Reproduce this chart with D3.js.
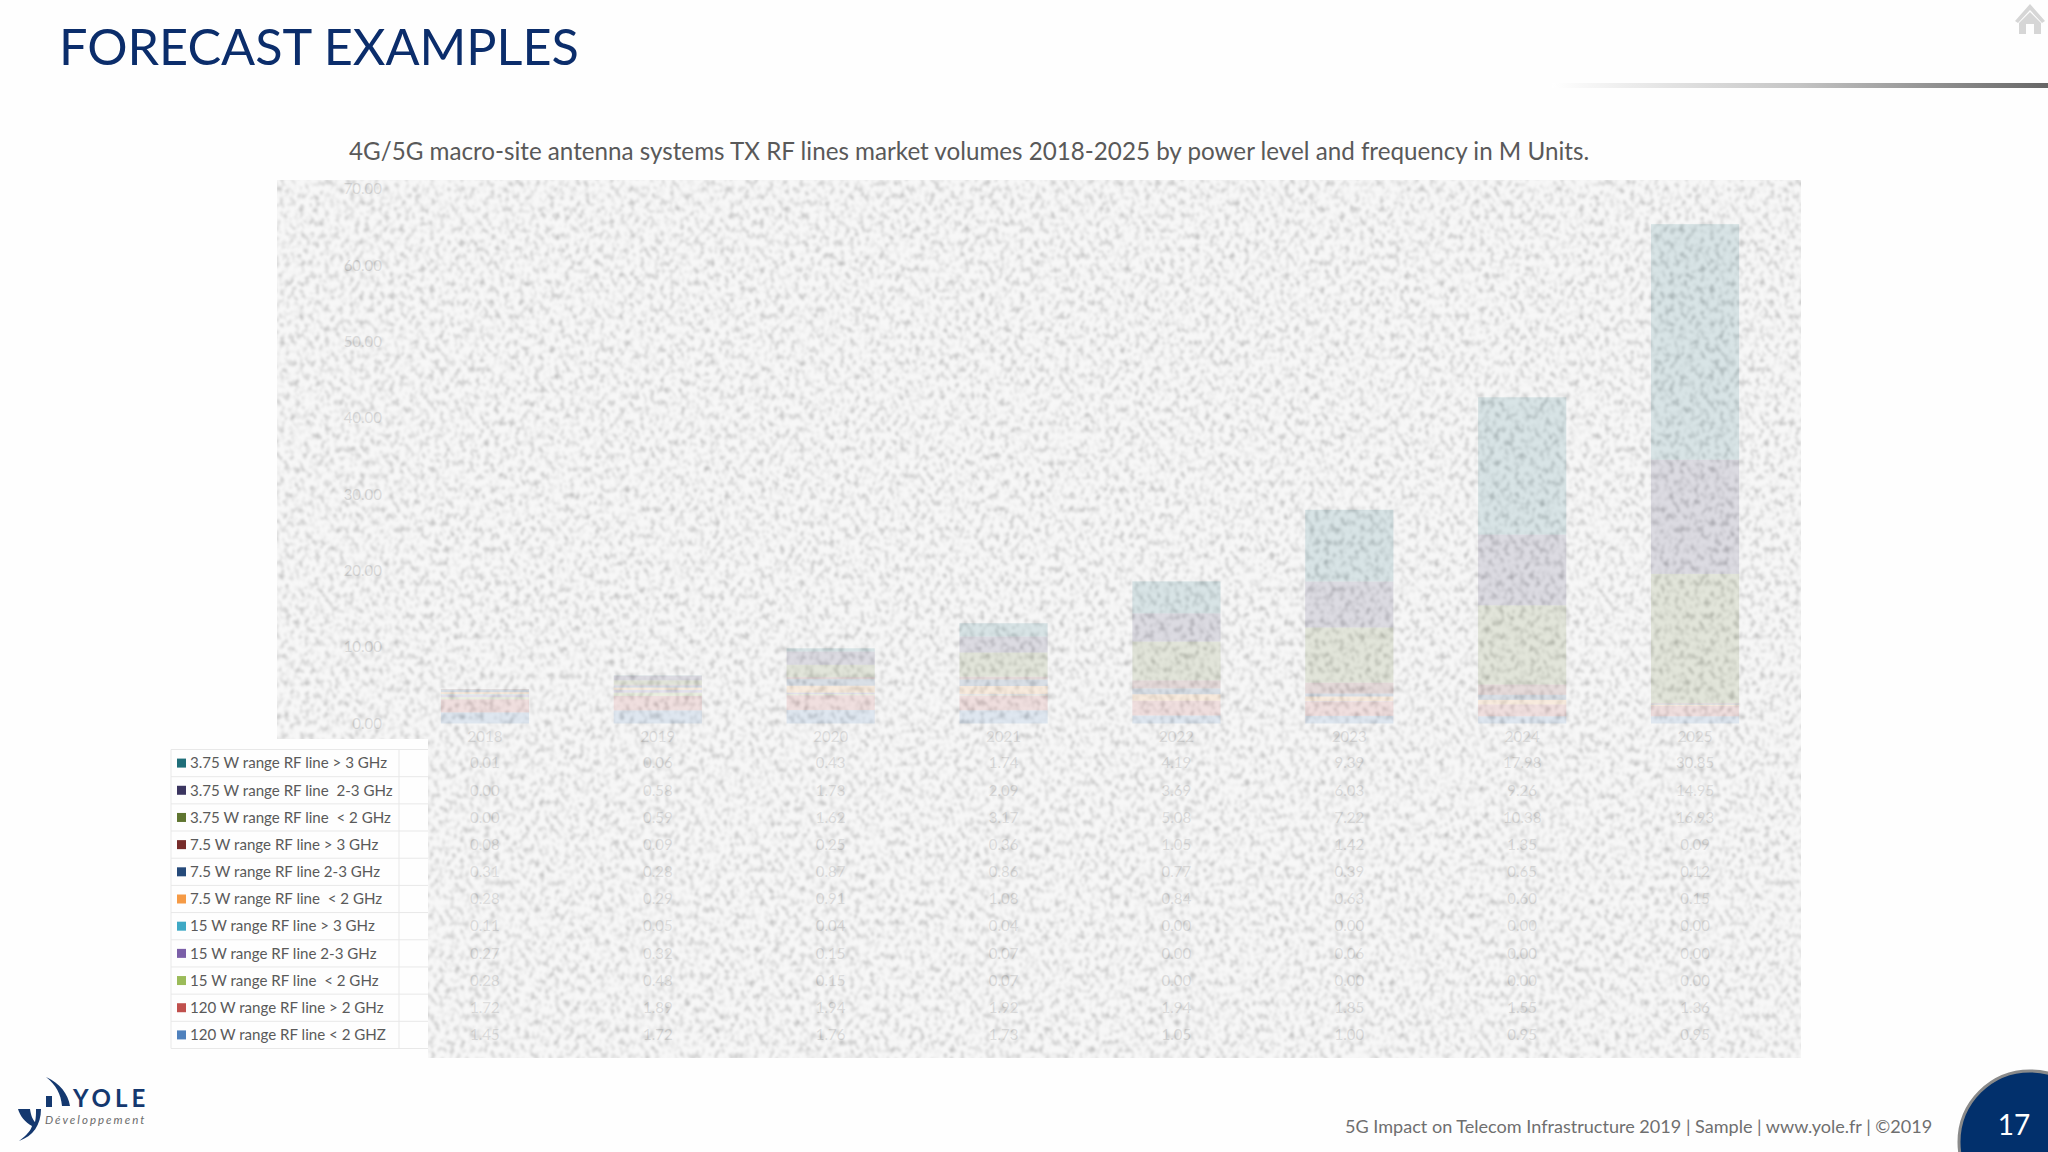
<!DOCTYPE html>
<html>
<head>
<meta charset="utf-8">
<title>Forecast examples</title>
<script src="https://cdnjs.cloudflare.com/ajax/libs/d3/7.8.5/d3.min.js"></script>
<style>
  html, body { margin: 0; padding: 0; background: #fff; }
  svg { display: block; font-family: Lato, sans-serif; }
</style>
</head>
<body>
<script>
// values, stack order is bottom (last row) to top (first row)
var years = ["2018", "2019", "2020", "2021", "2022", "2023", "2024", "2025"];
var seriesNames = [
  "3.75 W range RF line > 3 GHz",
  "3.75 W range RF line  2-3 GHz",
  "3.75 W range RF line  < 2 GHz",
  "7.5 W range RF line > 3 GHz",
  "7.5 W range RF line 2-3 GHz",
  "7.5 W range RF line  < 2 GHz",
  "15 W range RF line > 3 GHz",
  "15 W range RF line 2-3 GHz",
  "15 W range RF line  < 2 GHz",
  "120 W range RF line > 2 GHz",
  "120 W range RF line < 2 GHZ"
];
var seriesColors = ["#1f6e79", "#3b3560", "#5f7530", "#772c2a", "#254a7a", "#f59a45", "#3fa9c5", "#7b5fa8", "#9bbb59", "#c0504d", "#4f81bd"];

var w375_gt3 = [0.01, 0.06, 0.43, 1.74, 4.19, 9.39, 17.98, 30.85];
var w375_2to3 = [0.00, 0.58, 1.73, 2.09, 3.69, 6.03, 9.26, 14.95];
var w375_lt2 = [0.00, 0.59, 1.62, 3.17, 5.08, 7.22, 10.38, 16.93];
var w75_gt3 = [0.08, 0.09, 0.25, 0.36, 1.05, 1.42, 1.35, 0.09];
var w75_2to3 = [0.31, 0.28, 0.87, 0.86, 0.77, 0.39, 0.65, 0.12];
var w75_lt2 = [0.28, 0.29, 0.91, 1.08, 0.84, 0.63, 0.60, 0.15];
var w15_gt3 = [0.11, 0.05, 0.04, 0.04, 0.00, 0.00, 0.00, 0.00];
var w15_2to3 = [0.27, 0.32, 0.15, 0.07, 0.00, 0.06, 0.00, 0.00];
var w15_lt2 = [0.28, 0.43, 0.15, 0.07, 0.00, 0.00, 0.00, 0.00];
var w120_gt2 = [1.72, 1.89, 1.94, 1.92, 1.94, 1.85, 1.55, 1.36];
var w120_lt2 = [1.45, 1.72, 1.76, 1.73, 1.05, 1.00, 0.95, 0.95];
var seriesValues = [w375_gt3, w375_2to3, w375_lt2, w75_gt3, w75_2to3, w75_lt2, w15_gt3, w15_2to3, w15_lt2, w120_gt2, w120_lt2];
var yTicks = [0, 10, 20, 30, 40, 50, 60, 70];

var title = "FORECAST EXAMPLES";
var subtitle = "4G/5G macro-site antenna systems TX RF lines market volumes 2018-2025 by power level and frequency in M Units.";
var footer = "5G Impact on Telecom Infrastructure 2019 | Sample | www.yole.fr | ©2019";

var svg = d3.select("body").append("svg").attr("width", 2048).attr("height", 1152);
var defs = svg.append("defs");

// line under the header
var grad = defs.append("linearGradient").attr("id", "rule");
grad.append("stop").attr("offset", "0").attr("stop-color", "#fff");
grad.append("stop").attr("offset", "0.5").attr("stop-color", "#c4c4c4");
grad.append("stop").attr("offset", "1").attr("stop-color", "#666");

// the speckled veil that lies on top of the chart
var veil = defs.append("filter").attr("id", "veil")
  .attr("filterUnits", "userSpaceOnUse")
  .attr("x", 270).attr("y", 170).attr("width", 1540).attr("height", 900)
  .attr("color-interpolation-filters", "sRGB");
veil.append("feTurbulence").attr("type", "fractalNoise").attr("baseFrequency", "0.2 0.15")
  .attr("numOctaves", 4).attr("seed", 7);
veil.append("feColorMatrix").attr("type", "matrix")
  .attr("values", "0.9 0 0 0 0.52  0.9 0 0 0 0.52  0.9 0 0 0 0.52  0 0 0 0 0.58");
veil.append("feGaussianBlur").attr("stdDeviation", 0.8);

svg.append("rect").attr("width", 2048).attr("height", 1152).attr("fill", "#fefefe");

// header
svg.append("text").attr("x", 59).attr("y", 65).attr("font-size", 50.4).attr("fill", "#0b2d6b").text(title);
svg.append("rect").attr("x", 1552).attr("y", 83).attr("width", 496).attr("height", 5).attr("fill", "url(#rule)");
svg.append("path")
  .attr("d", "M2030 4 L2045 21 L2042 23 L2030 10 L2018 23 L2015 21 Z M2019 23 L2030 12 L2041 23 L2041 34 L2034 34 L2034 24 L2026 24 L2026 34 L2019 34 Z")
  .attr("fill", "#d6d6d6");

svg.append("text").attr("x", 349).attr("y", 160).attr("font-size", 24.2).attr("fill", "#595959").text(subtitle);

// chart panel
var panel = svg.append("g");
panel.append("rect").attr("x", 277).attr("y", 180).attr("width", 1524).attr("height", 559).attr("fill", "#ececec");
panel.append("rect").attr("x", 428).attr("y", 739).attr("width", 1373).attr("height", 319).attr("fill", "#ececec");

var x = d3.scaleBand().domain(years).range([398.5, 1781.5]).paddingInner(0.49).paddingOuter(0.245);
var y = d3.scaleLinear().domain([0, 70]).range([723.5, 189]);

// table built from the value arrays, one row per year for the stack
var rows = years.map(function(year, i) {
  var row = { year: year };
  seriesNames.forEach(function(name, s) { row[name] = seriesValues[s][i]; });
  return row;
});
var stack = d3.stack().keys(seriesNames.slice().reverse())(rows);
var color = d3.scaleOrdinal().domain(seriesNames).range(seriesColors);

svg.append("g").selectAll("g").data(stack).join("g")
  .attr("fill", function(d) { return color(d.key); })
  .attr("fill-opacity", 0.36)
  .selectAll("rect").data(function(d) { return d; }).join("rect")
  .attr("x", function(d) { return x(d.data.year); })
  .attr("width", x.bandwidth())
  .attr("y", function(d) { return y(d[1]); })
  .attr("height", function(d) { return y(d[0]) - y(d[1]); });

var axisY = svg.append("g").attr("transform", "translate(385,0)")
  .call(d3.axisLeft(y).tickValues(yTicks).tickFormat(d3.format(".2f")).tickSize(0));
axisY.select(".domain").remove();
axisY.selectAll("text").attr("font-family", "Lato, sans-serif").attr("font-size", 15).attr("fill", "#acacac");

// data table under the bars
var rowY = d3.scaleBand().domain(seriesNames).range([749.5, 1048.5]);
var rowCenter = function(name) { return rowY(name) + rowY.bandwidth() / 2; };
var barCenter = function(year) { return x(year) + x.bandwidth() / 2; };

svg.append("g").selectAll("text").data(years).join("text")
  .attr("x", barCenter).attr("y", 737).attr("dy", "0.35em")
  .attr("text-anchor", "middle").attr("font-size", 15).attr("fill", "#b4b4b4")
  .text(function(d) { return d; });

seriesNames.forEach(function(name, s) {
  svg.append("g").selectAll("text").data(seriesValues[s]).join("text")
    .attr("x", function(d, i) { return barCenter(years[i]); })
    .attr("y", rowCenter(name)).attr("dy", "0.35em")
    .attr("text-anchor", "middle").attr("font-size", 15).attr("fill", "#b0b0b0")
    .text(d3.format(".2f"));
});

// veil goes over bars and table numbers
var veilG = svg.append("g").attr("filter", "url(#veil)");
veilG.append("rect").attr("x", 277).attr("y", 180).attr("width", 1524).attr("height", 878);

// crop the veil to the panel shape and lay the legend on top
svg.append("rect").attr("x", 270).attr("y", 739).attr("width", 158).attr("height", 330).attr("fill", "#fefefe");
svg.append("rect").attr("x", 270).attr("y", 1058).attr("width", 1540).attr("height", 12).attr("fill", "#fefefe");
svg.append("rect").attr("x", 1801).attr("y", 170).attr("width", 9).attr("height", 900).attr("fill", "#fefefe");
svg.append("rect").attr("x", 270).attr("y", 170).attr("width", 1540).attr("height", 10).attr("fill", "#fefefe");
svg.append("rect").attr("x", 270).attr("y", 170).attr("width", 7).attr("height", 580).attr("fill", "#fefefe");

var legend = svg.append("g");
legend.selectAll("line.row").data(d3.range(seriesNames.length + 1)).join("line")
  .attr("x1", 171).attr("x2", 428)
  .attr("y1", function(i) { return 749.5 + i * rowY.step(); })
  .attr("y2", function(i) { return 749.5 + i * rowY.step(); })
  .attr("stroke", "#e8e8e8");
legend.selectAll("line.col").data([171, 399]).join("line")
  .attr("x1", function(d) { return d; }).attr("x2", function(d) { return d; })
  .attr("y1", 749.5).attr("y2", 1048.5)
  .attr("stroke", "#e8e8e8");
legend.selectAll("rect").data(seriesNames).join("rect")
  .attr("x", 177).attr("width", 9).attr("height", 9)
  .attr("y", function(d) { return rowCenter(d) - 4.5; })
  .attr("fill", function(d) { return color(d); });
legend.selectAll("text").data(seriesNames).join("text")
  .attr("x", 190).attr("y", rowCenter).attr("dy", "0.35em")
  .attr("font-size", 15.1).attr("fill", "#5a5a5a").attr("xml:space", "preserve")
  .style("white-space", "pre")
  .text(function(d) { return d; });

// footer
svg.append("text").attr("x", 1345).attr("y", 1133).attr("font-size", 18.07).attr("fill", "#6f6f6f").text(footer);
svg.append("circle").attr("cx", 2030).attr("cy", 1142).attr("r", 71).attr("fill", "#02306c").attr("stroke", "#8a8a8a").attr("stroke-width", 3);
svg.append("text").attr("x", 2014).attr("y", 1135).attr("text-anchor", "middle").attr("font-size", 28).attr("fill", "#fff").text("17");

// logo
var logo = svg.append("g");
logo.append("path").attr("d", "M46 1077 C60 1083 68 1094 70 1106 L62 1106 C61 1094 56 1085 46 1077 Z").attr("fill", "#14386f");
logo.append("rect").attr("x", 46).attr("y", 1096).attr("width", 6).attr("height", 11).attr("fill", "#14386f");
logo.append("path").attr("d", "M18 1109 L30 1109 C31 1116 33 1120 35 1122 C36 1118 36 1113 36 1109 L41 1109 C41 1125 33 1136 19 1141 C27 1135 31 1130 32 1126 C25 1122 20 1116 18 1109 Z").attr("fill", "#14386f");
logo.append("text").attr("x", 73).attr("y", 1107).attr("font-size", 24).attr("font-weight", 700).attr("letter-spacing", 4).attr("fill", "#14386f").text("YOLE");
logo.append("text").attr("x", 45).attr("y", 1124).attr("font-size", 11.5).attr("font-style", "italic").attr("letter-spacing", 2).attr("fill", "#6a6a6a").text("Développement");
</script>
</body>
</html>
